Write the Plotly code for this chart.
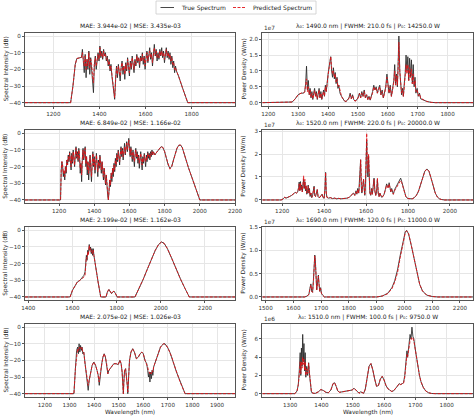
import plotly.graph_objects as go
from plotly.subplots import make_subplots

# ---------------- Panel A: row 1 left (dB) ----------------
wl_a = [1077, 1275, 1285, 1295, 1302, 1312, 1322,
        1326, 1330, 1334, 1338, 1342, 1346, 1350, 1354, 1358, 1362,
        1366, 1370, 1374, 1378, 1382, 1386, 1390, 1394, 1398, 1402,
        1406, 1410, 1414, 1418, 1422, 1426, 1430, 1434, 1438, 1442,
        1446, 1450, 1454, 1458, 1462, 1466, 1470, 1474, 1478, 1482,
        1486, 1490, 1494, 1498, 1502, 1506, 1510, 1514, 1518, 1522,
        1526, 1530, 1534, 1538, 1542, 1546, 1550, 1554, 1558, 1562,
        1566, 1570, 1574, 1578, 1582, 1586, 1590, 1594, 1598, 1602,
        1606, 1610, 1614, 1618, 1622, 1626, 1630, 1634, 1638, 1642,
        1646, 1650, 1654, 1658, 1662, 1666, 1670, 1674, 1678, 1682,
        1686, 1690, 1694, 1698, 1702, 1706, 1710, 1714, 1718, 1722,
        1726, 1730, 1734, 1738,
        1743, 1760, 1783, 1988]
true_a = [-40, -40, -30, -17, -13.5, -13, -12.8,
          -8, -16, -22, -11, -25, -14, -20, -9, -23, -13,
          -19, -28, -34, -17, -12, -20, -14, -10, -15, -6,
          -13, -9, -14, -8, -12, -10, -15, -12, -18, -14,
          -21, -17, -24, -28, -33, -38, -26, -18, -25, -17,
          -22, -27, -19, -15, -23, -18, -26, -16, -21, -13,
          -19, -24, -15, -20, -12, -17, -22, -14, -18, -11,
          -16, -13, -19, -12, -15, -10, -17, -12, -20, -13,
          -9, -16, -11, -7, -14, -10, -18, -9, -5, -12,
          -8, -15, -10, -14, -8, -12, -7, -13, -9, -16,
          -10, -7, -13, -9, -14, -10, -17, -12, -19, -15,
          -22, -18, -21, -22,
          -24, -31, -40, -40]
pred_a = [-40, -40, -30, -17, -13.5, -13, -12.8,
          -10, -14, -18, -12, -20, -14, -18, -10, -19, -14,
          -17, -24, -28, -17, -13, -18, -14, -11, -14, -7,
          -12, -10, -13, -9, -12, -11, -14, -13, -17, -15,
          -20, -18, -23, -28, -33, -37, -27, -19, -23, -18,
          -21, -24, -19, -16, -21, -18, -23, -17, -20, -14,
          -18, -22, -16, -19, -13, -16, -20, -15, -17, -12,
          -15, -13, -17, -13, -15, -11, -15, -13, -18, -14,
          -10, -15, -12, -9, -13, -11, -16, -10, -7, -11,
          -9, -13, -11, -13, -9, -12, -9, -12, -10, -14,
          -11, -8, -12, -10, -13, -11, -15, -13, -17, -16,
          -20, -19, -21, -22,
          -24, -31, -40, -40]

# ---------------- Panel B: row 1 right (x1e7 W/m) ----------------
wl_b = [1180, 1270, 1280, 1290, 1300, 1310, 1318, 1322, 1325, 1328,
        1331, 1334, 1337, 1340, 1343, 1346, 1349, 1352, 1355, 1358,
        1361, 1364, 1367, 1370, 1373, 1376, 1379, 1382, 1385, 1388,
        1391, 1394, 1397, 1400, 1403, 1406, 1409, 1412, 1415, 1418,
        1421, 1424, 1427, 1430, 1433, 1436, 1440, 1445, 1450, 1455,
        1460, 1465, 1470, 1474, 1478, 1482, 1486, 1490, 1495, 1500,
        1505, 1509, 1513, 1517, 1521, 1525, 1529, 1533, 1537, 1541,
        1545, 1549, 1553, 1557, 1561, 1565, 1569, 1573, 1577, 1581,
        1585, 1589, 1593, 1597, 1600, 1604, 1608, 1612, 1616, 1620,
        1623, 1626, 1629, 1632, 1635, 1637, 1640, 1643, 1646, 1649,
        1652, 1655, 1658, 1661, 1664, 1667, 1670, 1673, 1676, 1679,
        1682, 1685, 1688, 1691, 1694, 1698, 1702, 1706, 1710, 1720,
        1730, 1745, 1760, 1885]
true_b = [0, 0, 0.02, 0.12, 0.25, 0.3, 0.3, 0.35, 0.6, 1.15,
          0.4, 0.7, 0.25, 0.45, 0.15, 0.35, 0.1, 0.3, 0.45, 0.2,
          0.35, 0.1, 0.3, 0.45, 0.15, 0.35, 0.1, 0.25, 0.4, 0.2,
          0.55, 0.35, 0.7, 0.9, 1.1, 1.3, 1.45, 1.0, 0.8, 1.1,
          0.75, 0.95, 0.6, 0.8, 0.45, 0.55, 0.3, 0.2, 0.1, 0.05,
          0.03, 0.08, 0.15, 0.3, 0.12, 0.25, 0.1, 0.05, 0.08, 0.15,
          0.3, 0.15, 0.35, 0.2, 0.4, 0.15, 0.25, 0.1, 0.2, 0.08,
          0.2, 0.35, 0.55, 0.4, 0.5, 0.3, 0.45, 0.55, 0.25, 0.4,
          0.15, 0.35, 0.5, 0.9, 0.6, 0.3, 0.55, 0.2, 0.45, 0.7,
          1.2, 0.6, 0.9, 0.5, 1.4, 2.1, 1.0, 0.6, 0.25, 0.45,
          0.2, 0.6, 0.9, 1.5, 1.0, 1.45, 0.7, 1.4, 0.8, 1.35,
          0.6, 1.2, 0.5, 0.8, 0.3, 0.45, 0.2, 0.3, 0.12, 0.08,
          0.04, 0.01, 0, 0]
pred_b = [0, 0, 0.02, 0.12, 0.25, 0.3, 0.3, 0.35, 0.5, 0.75,
          0.35, 0.5, 0.25, 0.4, 0.18, 0.3, 0.12, 0.28, 0.38, 0.2,
          0.3, 0.12, 0.25, 0.4, 0.15, 0.3, 0.12, 0.25, 0.35, 0.2,
          0.5, 0.35, 0.7, 0.85, 1.05, 1.25, 1.45, 1.1, 0.9, 1.0,
          0.8, 0.9, 0.65, 0.75, 0.5, 0.55, 0.35, 0.2, 0.12, 0.06,
          0.04, 0.07, 0.14, 0.25, 0.12, 0.22, 0.1, 0.05, 0.07, 0.14,
          0.28, 0.15, 0.3, 0.2, 0.35, 0.15, 0.25, 0.1, 0.18, 0.08,
          0.2, 0.3, 0.5, 0.4, 0.45, 0.3, 0.4, 0.5, 0.25, 0.35,
          0.15, 0.3, 0.45, 0.8, 0.55, 0.3, 0.5, 0.2, 0.4, 0.65,
          1.0, 0.55, 0.85, 0.55, 1.2, 1.9, 1.0, 0.6, 0.3, 0.4,
          0.2, 0.5, 0.8, 1.2, 0.9, 1.2, 0.7, 1.1, 0.8, 1.05,
          0.6, 0.9, 0.55, 0.7, 0.35, 0.4, 0.22, 0.28, 0.14, 0.08,
          0.04, 0.01, 0, 0]

# ---------------- Panel C: row 2 left (dB) ----------------
wl_c = [1006, 1208,
        1212, 1216, 1220, 1224, 1228, 1232, 1236, 1240, 1244, 1248,
        1252, 1256, 1260, 1264, 1268, 1272, 1276, 1280, 1284, 1288,
        1292, 1296, 1300, 1304, 1308, 1312, 1316, 1320, 1324, 1328,
        1332, 1336, 1340, 1344, 1348, 1352, 1356, 1360, 1364, 1368,
        1372, 1376, 1380, 1384, 1388, 1392, 1396, 1400, 1404, 1408,
        1412, 1416, 1420, 1424, 1428, 1432, 1436, 1440, 1444, 1448,
        1452, 1456, 1460, 1464, 1468, 1472, 1476, 1480, 1484, 1488,
        1492, 1496, 1500, 1504, 1508, 1512, 1516, 1520, 1524, 1528,
        1532, 1536, 1540, 1544, 1548, 1552, 1556, 1560, 1564, 1568,
        1572, 1576, 1580, 1584, 1588, 1592, 1596, 1600, 1604, 1608,
        1612, 1616, 1620, 1624, 1628, 1632, 1636, 1640, 1644, 1648,
        1652, 1656, 1660, 1664, 1668, 1672, 1676, 1680, 1684, 1688,
        1692, 1696, 1700, 1704, 1708, 1712, 1716, 1720, 1724, 1728,
        1732, 1736, 1740,
        1745, 1750, 1760, 1770, 1780, 1790, 1800, 1810, 1820, 1830,
        1840, 1850, 1860, 1870, 1880, 1890, 1900, 1915, 1935, 1955,
        1975, 1990, 2000, 2200]
true_c = [-40, -40,
          -22, -17, -20, -26, -23, -28, -20, -24, -16, -19,
          -13, -17, -11, -15, -22, -12, -18, -10, -14, -20,
          -13, -8, -15, -11, -17, -9, -14, -24, -18, -29,
          -15, -9, -16, -12, -8, -20, -14, -25, -17, -28,
          -19, -13, -22, -29, -18, -11, -20, -14, -24, -17,
          -12, -19, -26, -16, -21, -13, -19, -24, -17, -23,
          -28, -21, -26, -31, -25, -33, -37, -40, -34, -28,
          -32, -24, -29, -21, -26, -18, -23, -15, -20, -12,
          -17, -10, -14, -19, -12, -8, -14, -9, -16, -11,
          -6, -13, -9, -5, -11, -7, -3, -9, -14, -8,
          -12, -17, -10, -14, -20, -12, -9, -15, -11, -18,
          -13, -21, -15, -11, -17, -22, -14, -18, -12, -16,
          -20, -13, -17, -11, -15, -12, -16, -11, -14, -10,
          -13, -11, -12,
          -13, -12, -10.5, -9, -8, -8.5, -11, -15, -19, -21,
          -20, -16, -12, -9, -7.2, -7, -8.5, -14, -20.5, -26.5,
          -32.5, -37, -40, -40]
pred_c = [-40, -40,
          -22, -17, -19, -24, -22, -26, -20, -23, -16, -19,
          -14, -16, -12, -15, -20, -13, -17, -11, -14, -19,
          -13, -9, -14, -12, -16, -10, -14, -21, -18, -25,
          -16, -10, -15, -13, -9, -18, -14, -22, -17, -24,
          -19, -14, -20, -26, -18, -12, -19, -15, -22, -17,
          -13, -18, -23, -17, -20, -14, -18, -22, -17, -21,
          -26, -21, -25, -30, -25, -32, -36, -40, -34, -28,
          -31, -24, -27, -21, -24, -19, -22, -16, -19, -13,
          -16, -11, -14, -17, -13, -9, -13, -10, -14, -12,
          -8, -12, -10, -6, -10, -8, -4, -9, -13, -9,
          -12, -15, -11, -14, -17, -13, -10, -14, -12, -16,
          -14, -18, -15, -12, -16, -19, -15, -17, -13, -15,
          -17, -14, -16, -12, -14, -13, -15, -12, -13, -11,
          -13, -11, -12,
          -13, -12, -10.5, -9, -8, -8.5, -11, -15, -19, -21.5,
          -20, -16, -12, -9, -7.2, -7, -8.5, -14, -20.5, -26.5,
          -32.5, -37, -40, -40]

# ---------------- Panel D: row 2 right (x1e7 W/m) ----------------
wl_d = [1105, 1195, 1205, 1212, 1218, 1225, 1235, 1245, 1255, 1262,
        1268, 1274, 1278, 1281, 1284, 1287, 1290, 1293, 1296, 1299,
        1302, 1305, 1308, 1311, 1314, 1317, 1320, 1324, 1327, 1330,
        1333, 1337, 1341, 1345, 1349, 1352, 1355, 1359, 1363, 1367,
        1371, 1375, 1380, 1385, 1390, 1395, 1400, 1404, 1407, 1410,
        1413, 1420, 1430, 1440, 1450, 1460, 1470, 1480, 1490, 1500,
        1510, 1520, 1528, 1534, 1540, 1546, 1552, 1556, 1560, 1565,
        1570, 1574, 1577, 1580, 1584, 1588, 1591, 1594, 1597, 1600,
        1603, 1606, 1609, 1612, 1615, 1618, 1622, 1626, 1630, 1634,
        1638, 1642, 1646, 1650, 1654, 1658, 1662, 1666, 1670, 1674,
        1680, 1686, 1692, 1698, 1702, 1706, 1710, 1714, 1718, 1722,
        1726, 1730, 1736, 1742, 1748, 1754, 1760, 1765, 1770, 1775,
        1780, 1785, 1790, 1800, 1810, 1820, 1830, 1840, 1850, 1860,
        1870, 1880, 1890, 1900, 1910, 1920, 1930, 1940, 1950, 1960,
        1975, 2110]
true_d = [0, 0, 0.05, 0.12, 0.08, 0.1, 0.15, 0.2, 0.28, 0.33,
          0.3, 0.35, 0.55, 0.78, 0.4, 0.8, 0.45, 0.65, 0.35, 0.75,
          0.9, 0.5, 0.8, 0.4, 0.6, 0.25, 0.3, 0.65, 0.3, 0.5,
          0.15, 0.3, 0.1, 0.2, 0.55, 0.6, 0.2, 0.15, 0.3, 0.45,
          0.15, 0.1, 0.12, 0.2, 0.25, 0.1, 0.08, 0.5, 1.2, 0.3,
          0.12, 0.08, 0.1, 0.06, 0.08, 0.05, 0.07, 0.05, 0.06, 0.05,
          0.08, 0.12, 0.2, 0.25, 0.3, 0.2, 0.4, 0.25, 0.5, 0.3,
          0.9, 1.75, 0.6, 0.3, 0.6, 0.9, 0.5, 0.2, 0.7, 1.9,
          2.6, 1.3, 1.0, 1.9, 0.9, 0.3, 0.2, 0.5, 0.25, 0.7,
          0.95, 0.4, 0.2, 0.35, 0.9, 0.3, 0.15, 0.3, 0.2, 0.12,
          0.15, 0.25, 0.45, 0.7, 0.6, 0.55, 0.75, 0.45, 0.35, 0.5,
          0.3, 0.25, 0.45, 0.55, 0.65, 0.75, 0.9, 0.95, 0.8, 0.6,
          0.4, 0.25, 0.14, 0.06, 0.04, 0.05, 0.1, 0.2, 0.38, 0.65,
          0.98, 1.25, 1.35, 1.25, 0.95, 0.6, 0.3, 0.13, 0.05, 0.02,
          0, 0]
pred_d = [0, 0, 0.05, 0.12, 0.08, 0.1, 0.15, 0.2, 0.28, 0.33,
          0.3, 0.35, 0.5, 0.7, 0.4, 0.75, 0.45, 0.6, 0.35, 0.85,
          1.05, 0.55, 0.9, 0.45, 0.65, 0.3, 0.35, 0.6, 0.3, 0.45,
          0.2, 0.3, 0.12, 0.2, 0.5, 0.55, 0.2, 0.15, 0.3, 0.45,
          0.15, 0.1, 0.12, 0.2, 0.25, 0.1, 0.08, 0.5, 1.2, 0.35,
          0.12, 0.08, 0.1, 0.06, 0.08, 0.05, 0.07, 0.05, 0.06, 0.05,
          0.08, 0.12, 0.2, 0.25, 0.3, 0.2, 0.35, 0.25, 0.45, 0.3,
          0.8, 1.75, 0.6, 0.35, 0.6, 0.9, 0.5, 0.25, 0.6, 1.8,
          2.9, 1.6, 1.2, 2.0, 1.0, 0.35, 0.2, 0.45, 0.25, 0.7,
          0.9, 0.4, 0.2, 0.35, 0.95, 0.3, 0.15, 0.3, 0.2, 0.12,
          0.15, 0.25, 0.45, 0.65, 0.55, 0.5, 0.7, 0.4, 0.35, 0.45,
          0.3, 0.25, 0.4, 0.5, 0.6, 0.7, 0.8, 0.85, 0.75, 0.6,
          0.4, 0.25, 0.14, 0.06, 0.04, 0.05, 0.1, 0.2, 0.38, 0.65,
          0.97, 1.24, 1.34, 1.25, 0.95, 0.6, 0.3, 0.13, 0.05, 0.02,
          0, 0]

# ---------------- Panel E: row 3 left (dB) ----------------
wl_e = [1385, 1589, 1600, 1611, 1622, 1634, 1645, 1652, 1657, 1660,
        1663, 1666, 1669, 1672, 1676, 1679, 1682, 1685, 1688, 1691,
        1694, 1697, 1700, 1704, 1710, 1716, 1722, 1728, 1752, 1758,
        1765, 1771, 1777, 1782, 1788, 1795, 1802, 1883, 1900, 1920,
        1940, 1960, 1975, 1990, 2003, 2015, 2030, 2050, 2070, 2090,
        2110, 2129, 2336]
true_e = [-40, -40, -36, -33, -31, -30, -28.5, -27, -25, -20,
          -15, -18, -12, -14, -8.5, -12, -10, -14, -11, -15,
          -11, -15, -17, -20, -26, -31, -36, -40, -40, -37,
          -35.5, -37, -38, -37, -36.5, -38, -40, -40, -35.5, -29.5,
          -23, -16.5, -12, -8.5, -7, -7.8, -11, -17, -23.5, -29.5,
          -35, -40, -40]
pred_e = [-40, -40, -36, -33, -31, -30, -29, -28, -27, -22,
          -16, -17, -13, -15, -9, -12, -11, -13, -12, -14,
          -12, -15, -17, -20, -26, -31, -36, -40, -40, -37,
          -35.5, -37, -38, -37, -36.5, -38, -40, -40, -35.5, -29.5,
          -23, -16.5, -12, -8.5, -7, -7.8, -11, -17, -23.5, -29.5,
          -35, -40, -40]

# ---------------- Panel F: row 3 right (x1e7 W/m) ----------------
wl_f = [1488, 1640, 1650, 1656, 1660, 1663, 1666, 1669, 1672, 1675,
        1677, 1679, 1681, 1684, 1687, 1690, 1692, 1695, 1698, 1701,
        1705, 1712, 1900, 1920, 1940, 1955, 1965, 1975, 1985, 1995,
        2003, 2008, 2015, 2025, 2035, 2045, 2055, 2065, 2080, 2100,
        2120, 2247]
true_f = [0, 0, 0.02, 0.06, 0.2, 0.28, 0.12, 0.1, 0.35, 0.75,
          0.9, 0.8, 0.45, 0.15, 0.3, 0.47, 0.3, 0.12, 0.2, 0.08,
          0.04, 0, 0, 0.02, 0.08, 0.2, 0.35, 0.58, 0.9, 1.22,
          1.4, 1.43, 1.35, 1.1, 0.8, 0.5, 0.27, 0.13, 0.04, 0.01,
          0, 0]
pred_f = [0, 0, 0.02, 0.06, 0.18, 0.26, 0.12, 0.1, 0.3, 0.7,
          0.88, 0.78, 0.45, 0.15, 0.28, 0.45, 0.3, 0.12, 0.18, 0.08,
          0.04, 0, 0, 0.02, 0.07, 0.18, 0.32, 0.52, 0.85, 1.18,
          1.38, 1.42, 1.36, 1.1, 0.8, 0.5, 0.27, 0.13, 0.04, 0.01,
          0, 0]

# ---------------- Panel G: row 4 left (dB) ----------------
wl_g = [1119, 1318, 1324, 1329, 1333, 1336, 1339, 1342, 1345, 1348,
        1351, 1354, 1358, 1363, 1368, 1372, 1376, 1380, 1385, 1392,
        1399, 1406, 1412, 1417, 1421, 1425, 1431, 1436, 1441, 1446,
        1451, 1456, 1460, 1465, 1472, 1480, 1490, 1498, 1505, 1510,
        1514, 1517, 1519, 1521, 1524, 1528, 1532, 1535, 1537, 1540,
        1544, 1550, 1557, 1564, 1572, 1580, 1587, 1594, 1600, 1607,
        1614, 1618, 1621, 1624, 1627, 1630, 1633, 1636, 1639, 1642,
        1647, 1652, 1658, 1664, 1670, 1676, 1682, 1688, 1694, 1700,
        1708, 1716, 1724, 1735, 1750, 1770, 1973]
true_g = [-40, -40, -25, -14, -12, -16, -10, -15, -11, -14,
          -12, -16, -15, -22, -28, -33, -38, -32, -27, -23,
          -21, -23, -26, -29, -35, -28, -22, -18, -16, -18,
          -22, -28, -26, -25, -23, -22, -22, -22.5, -20, -22,
          -27, -35, -40, -33, -26, -25, -29, -35, -40, -30,
          -20, -15, -13, -15, -19, -18, -16, -15, -16, -20,
          -22, -26, -30, -27, -33, -27, -31, -26, -29, -24,
          -22, -20, -17, -14, -12, -11, -10, -10, -11, -12.5,
          -15, -18, -22, -27, -33, -40, -40]
pred_g = [-40, -40, -25, -15, -13, -14, -12, -13, -12, -13,
          -12, -15, -15, -22, -28, -32, -35, -32, -27, -23,
          -21, -23, -26, -29, -33, -28, -22, -18, -16, -18,
          -22, -28, -26, -25, -23, -22, -22, -22.5, -20, -22,
          -27, -34, -40, -33, -26, -25, -29, -35, -39, -30,
          -20, -15, -13, -15, -19, -18, -16, -15, -16, -20,
          -22, -24, -26, -27, -28, -27, -28, -26, -27, -24,
          -22, -20, -17, -14, -12, -11, -10, -10.3, -11, -12.5,
          -15, -18, -22, -27, -33, -40, -40]

# ---------------- Panel H: row 4 right (x1e6 W/m) ----------------
wl_h = [1211, 1315, 1322, 1326, 1329, 1332, 1334, 1336, 1338, 1340,
        1342, 1344, 1346, 1348, 1350, 1353, 1356, 1359, 1362, 1365,
        1368, 1373, 1380, 1390, 1398, 1406, 1414, 1422, 1430, 1437,
        1442, 1447, 1452, 1458, 1465, 1472, 1480, 1490, 1498, 1504,
        1510, 1515, 1520, 1525, 1530, 1535, 1540, 1546, 1552, 1558,
        1564, 1570, 1576, 1582, 1588, 1594, 1600, 1606, 1612, 1618,
        1624, 1630, 1636, 1642, 1648, 1653, 1658, 1662, 1666, 1670,
        1673, 1675, 1677, 1680, 1683, 1686, 1689, 1692, 1695, 1699,
        1703, 1708, 1713, 1718, 1725, 1733, 1742, 1752, 1765, 1884]
true_h = [0, 0, 0.3, 1.0, 2.5, 4.5, 2.0, 5.0, 3.0, 6.5,
          3.5, 5.5, 2.5, 4.5, 1.8, 3.0, 2.0, 3.4, 2.0, 0.6,
          0.15, 0.05, 0.03, 0.2, 0.45, 0.35, 0.15, 0.1, 0.4, 1.1,
          1.2, 0.8, 0.3, 0.15, 0.2, 0.28, 0.35, 0.35, 0.4, 0.6,
          0.4, 0.15, 0.05, 0.2, 0.12, 0.05, 0.5, 1.8, 3.0, 3.3,
          2.6, 1.6, 0.8, 0.9, 1.6, 1.9, 1.5, 0.9, 0.55, 0.4,
          0.25, 0.3, 0.5, 0.8, 1.1, 1.0, 1.1, 1.2, 2.0, 3.5,
          4.7, 4.0, 4.8, 5.5, 6.5, 6.0, 7.3, 6.3, 6.0, 5.0,
          4.0, 3.0, 2.0, 1.3, 0.7, 0.3, 0.1, 0.02, 0, 0]
pred_h = [0, 0, 0.3, 1.0, 2.0, 3.5, 2.2, 3.5, 2.8, 4.0,
          3.2, 3.8, 2.6, 3.5, 2.0, 2.7, 2.2, 3.3, 2.2, 0.7,
          0.2, 0.05, 0.03, 0.2, 0.45, 0.35, 0.15, 0.1, 0.4, 1.1,
          1.2, 0.8, 0.3, 0.15, 0.2, 0.28, 0.35, 0.35, 0.4, 0.6,
          0.4, 0.15, 0.05, 0.2, 0.12, 0.05, 0.5, 1.8, 3.0, 3.3,
          2.6, 1.6, 0.8, 0.9, 1.6, 1.9, 1.5, 0.9, 0.55, 0.4,
          0.25, 0.3, 0.5, 0.8, 1.1, 1.0, 1.1, 1.1, 1.8, 3.0,
          4.3, 4.0, 4.4, 5.0, 5.8, 5.9, 6.2, 6.1, 5.8, 5.0,
          4.0, 3.0, 2.0, 1.3, 0.7, 0.3, 0.1, 0.02, 0, 0]

# ---------------- Text / ticks ----------------
titles = [
    "MAE: 3.944e-02 | MSE: 3.435e-03",
    "λ₀: 1490.0 nm | FWHM: 210.0 fs | P₀: 14250.0 W",
    "MAE: 6.849e-02 | MSE: 1.166e-02",
    "λ₀: 1520.0 nm | FWHM: 220.0 fs | P₀: 20000.0 W",
    "MAE: 2.199e-02 | MSE: 1.162e-03",
    "λ₀: 1690.0 nm | FWHM: 120.0 fs | P₀: 11000.0 W",
    "MAE: 2.075e-02 | MSE: 1.026e-03",
    "λ₀: 1510.0 nm | FWHM: 100.0 fs | P₀: 9750.0 W",
]
xticks = [
    [1200, 1400, 1600, 1800],
    [1200, 1300, 1400, 1500, 1600, 1700, 1800],
    [1200, 1400, 1600, 1800, 2000, 2200],
    [1200, 1400, 1600, 1800, 2000],
    [1400, 1600, 1800, 2000, 2200],
    [1500, 1600, 1700, 1800, 1900, 2000, 2100, 2200],
    [1200, 1300, 1400, 1500, 1600, 1700, 1800, 1900],
    [1300, 1400, 1500, 1600, 1700, 1800],
]
db_ticks = [-40, -30, -20, -10, 0]
db_ticktext = ["−40", "−30", "−20", "−10", "0"]
pw_ticks = [[0, 0.5, 1.0, 1.5, 2.0], [0, 1, 2, 3], [0, 0.5, 1.0, 1.5], [0, 2, 4, 6]]
pw_ticktext = [["0.0", "0.5", "1.0", "1.5", "2.0"], ["0", "1", "2", "3"],
               ["0.0", "0.5", "1.0", "1.5"], ["0", "2", "4", "6"]]
pw_exp = ["1e7", "1e7", "1e7", "1e6"]

xs = [wl_a, wl_b, wl_c, wl_d, wl_e, wl_f, wl_g, wl_h]
trues = [true_a, true_b, true_c, true_d, true_e, true_f, true_g, true_h]
preds = [pred_a, pred_b, pred_c, pred_d, pred_e, pred_f, pred_g, pred_h]
xranges = [[1077, 1988], [1180, 1885], [1006, 2200], [1105, 2110],
           [1385, 2336], [1488, 2247], [1119, 1973], [1211, 1884]]

W, H = 474, 417
FONT = "DejaVu Sans"
col_px = [(25, 235), (262.3, 473)]
row_px = [(32.7, 106), (130, 203.3), (227, 300.3), (323.8, 397)]

fig = make_subplots(rows=4, cols=2)
annotations = []
for i in range(8):
    r, c = divmod(i, 2)
    fig.add_trace(go.Scatter(x=xs[i], y=trues[i], mode="lines", name="True Spectrum",
                             line=dict(color="rgba(40,40,40,0.85)", width=1),
                             showlegend=False, hoverinfo="skip"), row=r + 1, col=c + 1)
    fig.add_trace(go.Scatter(x=xs[i], y=preds[i], mode="lines", name="Predicted Spectrum",
                             line=dict(color="rgba(225,20,25,0.9)", width=1, dash="3px,1.5px"),
                             showlegend=False, hoverinfo="skip"), row=r + 1, col=c + 1)
    x0, x1 = col_px[c]
    y0, y1 = row_px[r]
    xd = [x0 / W, x1 / W]
    yd = [1 - y1 / H, 1 - y0 / H]
    common = dict(showline=True, mirror=True, linecolor="#555", linewidth=1,
                  showgrid=True, gridcolor="#e6e6e6", gridwidth=0.7,
                  ticks="outside", ticklen=2, tickwidth=0.8, tickcolor="#555",
                  tickfont=dict(family=FONT, size=5.6, color="#333"),
                  zeroline=False, automargin=False)
    fig.update_xaxes(domain=xd, range=xranges[i], tickmode="array", tickvals=xticks[i],
                     ticktext=[str(v) for v in xticks[i]], row=r + 1, col=c + 1, **common)
    if c == 0:
        fig.update_yaxes(domain=yd, range=[-42, 2], tickmode="array", tickvals=db_ticks,
                         ticktext=db_ticktext, row=r + 1, col=c + 1, **common)
    else:
        ymax = max(max(trues[i]), max(preds[i]))
        fig.update_yaxes(domain=yd, range=[-0.05 * ymax, 1.05 * ymax], tickmode="array",
                         tickvals=pw_ticks[r], ticktext=pw_ticktext[r],
                         row=r + 1, col=c + 1, **common)
        annotations.append(dict(text=pw_exp[r], xref="paper", yref="paper", x=xd[0], y=yd[1],
                                xanchor="left", yanchor="bottom", yshift=0, showarrow=False,
                                font=dict(family=FONT, size=5.8, color="#333")))
    # subplot title
    annotations.append(dict(text=titles[i], xref="paper", yref="paper", x=(xd[0] + xd[1]) / 2,
                            y=yd[1], xanchor="center", yanchor="bottom", yshift=1, showarrow=False,
                            font=dict(family=FONT, size=6, color="#222")))
    # y titles
    ylab = "Spectral Intensity (dB)" if c == 0 else "Power Density (W/m)"
    annotations.append(dict(text=ylab, xref="paper", yref="paper",
                            x=(6 if c == 0 else 244) / W, y=(yd[0] + yd[1]) / 2,
                            xanchor="center", yanchor="middle", textangle=-90, showarrow=False,
                            font=dict(family=FONT, size=5.8, color="#222")))
    if r == 3:
        annotations.append(dict(text="Wavelength (nm)", xref="paper", yref="paper",
                                x=(xd[0] + xd[1]) / 2, y=0, xanchor="center",
                                yanchor="bottom", yshift=-1, showarrow=False,
                                font=dict(family=FONT, size=5.8, color="#222")))

# legend (drawn manually to match compact matplotlib legend)
shapes = [
    dict(type="rect", xref="paper", yref="paper", x0=156 / W, x1=316 / W,
         y0=1 - 14 / H, y1=1 - 1 / H, line=dict(color="#cccccc", width=0.8),
         fillcolor="white"),
    dict(type="line", xref="paper", yref="paper", x0=160.5 / W, x1=174 / W,
         y0=1 - 7.5 / H, y1=1 - 7.5 / H, line=dict(color="rgba(40,40,40,0.85)", width=1)),
    dict(type="line", xref="paper", yref="paper", x0=233 / W, x1=246 / W,
         y0=1 - 7.5 / H, y1=1 - 7.5 / H, line=dict(color="rgba(225,20,25,0.9)", width=1,
                                                    dash="3px,1.5px")),
]
annotations.append(dict(text="True Spectrum", xref="paper", yref="paper", x=179 / W,
                        y=1 - 7.5 / H, xanchor="left", yanchor="middle", showarrow=False,
                        font=dict(family=FONT, size=6, color="#222")))
annotations.append(dict(text="Predicted Spectrum", xref="paper", yref="paper", x=251 / W,
                        y=1 - 7.5 / H, xanchor="left", yanchor="middle", showarrow=False,
                        font=dict(family=FONT, size=6, color="#222")))

fig.update_layout(width=W, height=H, margin=dict(l=0, r=0, t=0, b=0),
                  paper_bgcolor="white", plot_bgcolor="white", showlegend=False,
                  annotations=annotations, shapes=shapes,
                  font=dict(family=FONT, size=6, color="#222"))

fig.write_html("out.html")
